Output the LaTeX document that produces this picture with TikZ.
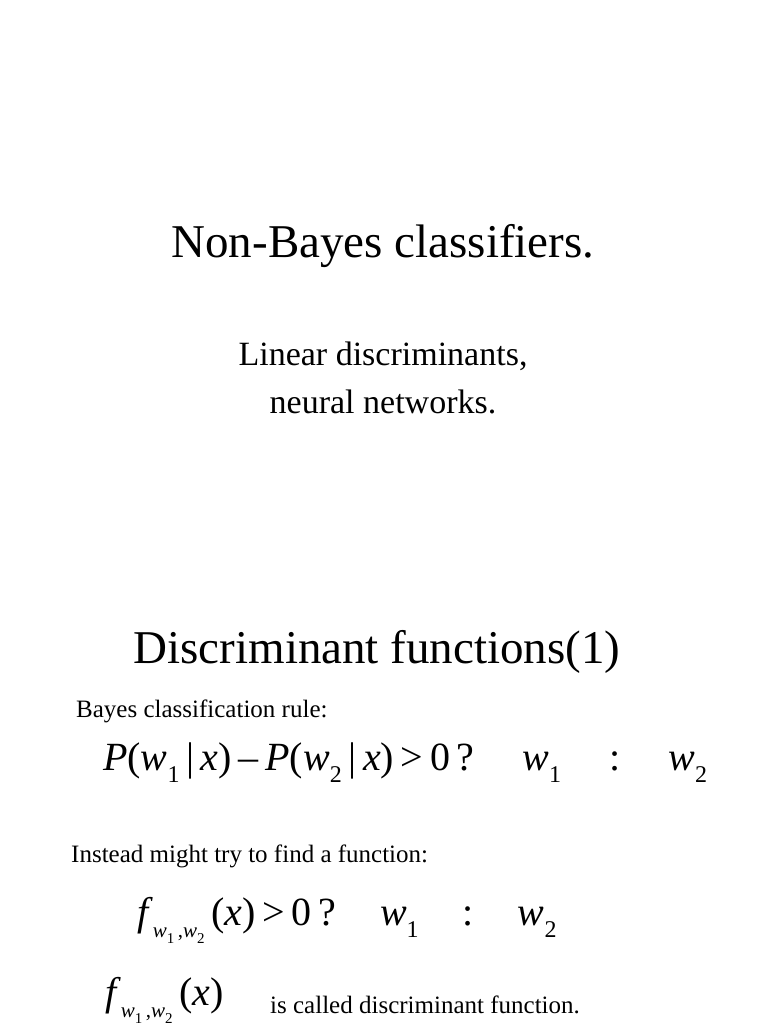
\documentclass[tikz,border=0pt]{standalone}
\usepackage{fontspec}
\setmainfont{Liberation Serif}
\newcommand{\sbx}[2]{\raisebox{-0.3em}{\fontsize{#1}{#1}\selectfont #2}}
\tikzset{txt/.style={inner sep=0pt,anchor=base west}, ctr/.style={inner sep=0pt,anchor=base}}
\begin{document}
\begin{tikzpicture}[x=1pt,y=-1pt]
\useasboundingbox[fill=white] (0,0) rectangle (768,1024);
\node[ctr,font=\fontsize{47}{50}\selectfont] (t1) at (383,258) {Non-Bayes classifiers.};
\node[ctr,font=\fontsize{34}{38}\selectfont] (t2) at (383,365) {Linear discriminants,};
\node[ctr,font=\fontsize{34}{38}\selectfont] (t3) at (383,413) {neural networks.};
\node[ctr,font=\fontsize{47}{50}\selectfont] (t4) at (377,663) {Discriminant functions(1)};
\node[txt,font=\fontsize{25}{28}\selectfont] (t5) at (76,717) {Bayes classification rule:};
\node[txt,font=\fontsize{40}{44}\selectfont] (f1) at (103,770) {\textit{P}(\textit{w}\sbx{24}{1}\,|\,\textit{x})\,--\,\textit{P}(\textit{w}\sbx{24}{2}\,|\,\textit{x})\,>\,0\,?\hspace{1.2em}\textit{w}\sbx{24}{1}\hspace{1.2em}:\hspace{1.2em}\textit{w}\sbx{24}{2}};
\node[txt,font=\fontsize{25}{28}\selectfont] (t6) at (71,862) {Instead might try to find a function:};
\node[txt,font=\fontsize{40}{44}\selectfont] (f2) at (137,925) {\textit{f}\sbx{21}{\textit{w}\sbx{15}{1}\,,\textit{w}\sbx{15}{2}}\,(\textit{x})\,>\,0\,?\hspace{1.1em}\textit{w}\sbx{24}{1}\hspace{1.1em}:\hspace{1.1em}\textit{w}\sbx{24}{2}};
\node[txt,font=\fontsize{40}{44}\selectfont] (f3) at (105,1005) {\textit{f}\sbx{21}{\textit{w}\sbx{15}{1}\,,\textit{w}\sbx{15}{2}}\,(\textit{x})};
\node[txt,font=\fontsize{25}{28}\selectfont] (t7) at (270,1013) {is called discriminant function.};
\end{tikzpicture}
\end{document}
